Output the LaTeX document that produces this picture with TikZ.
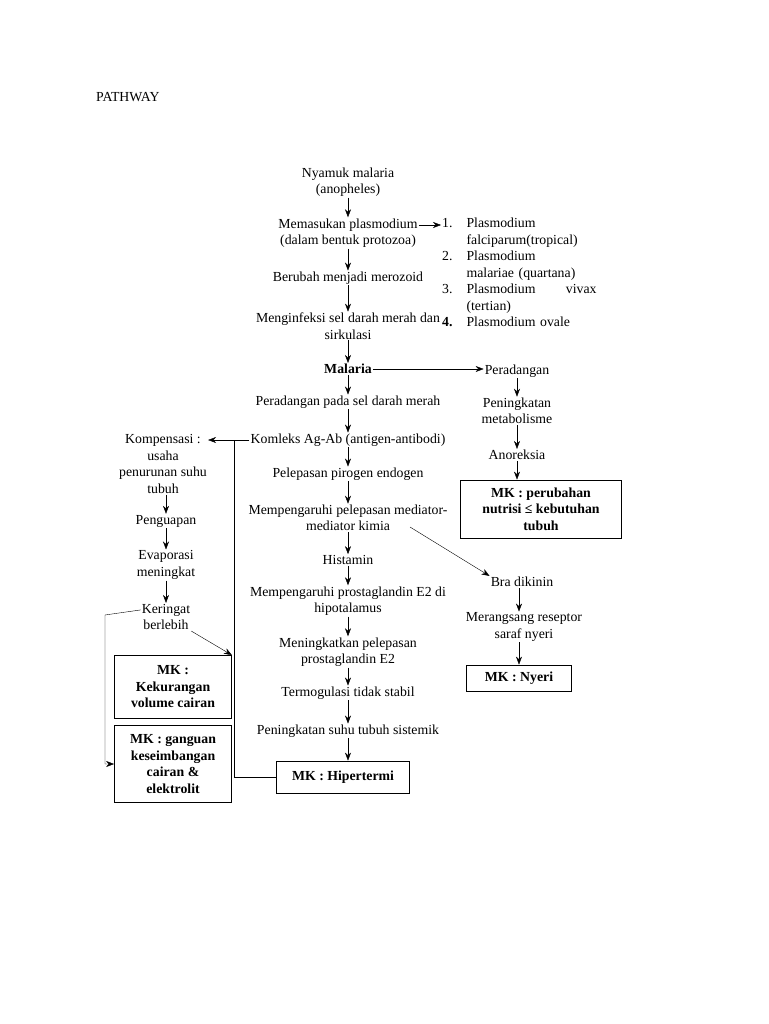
\documentclass[tikz,border=0pt]{standalone}
\usepackage{fontspec}
\setmainfont{Liberation Serif}
\usetikzlibrary{arrows.meta}
\begin{document}
\begin{tikzpicture}[x=1pt,y=-1pt,
  every node/.style={font=\fontsize{13.8}{16.5}\selectfont, align=center, inner sep=1pt},
  mk/.style={draw, thick, font=\fontsize{13.8}{16.5}\selectfont\bfseries, inner sep=3pt},
  arr/.style={-{Stealth[length=8pt,width=6pt]}}]
\useasboundingbox (0,0) rectangle (768,1024);
\node[anchor=west] (title) at (95,97) {PATHWAY};

% main column
\node (n1) at (348,182) {Nyamuk malaria\\(anopheles)};
\node (n2) at (348,233) {Memasukan plasmodium\\(dalam bentuk protozoa)};
\node (n3) at (348,278) {Berubah menjadi merozoid};
\node (n4) at (348,326) {Menginfeksi sel darah merah dan\\sirkulasi};
\node[font=\fontsize{13.8}{16.5}\selectfont\bfseries] (n5) at (348,369) {Malaria};
\node (n6) at (348,402) {Peradangan pada sel darah merah};
\node (n7) at (348,440) {Komleks Ag-Ab (antigen-antibodi)};
\node (n8) at (348,474) {Pelepasan pirogen endogen};
\node (n9) at (348,518) {Mempengaruhi pelepasan mediator-\\mediator kimia};
\node (n10) at (348,560) {Histamin};
\node (n11) at (348,601) {Mempengaruhi prostaglandin E2 di\\hipotalamus};
\node (n12) at (348,652) {Meningkatkan pelepasan\\prostaglandin E2};
\node (n13) at (348,693) {Termogulasi tidak stabil};
\node (n14) at (348,731) {Peningkatan suhu tubuh sistemik};
\node[mk, minimum width=133pt, minimum height=32pt] (n15) at (343,777) {MK : Hipertermi};

\foreach \a/\b in {n1/n2,n2/n3,n3/n4,n4/n5,n5/n6,n6/n7,n7/n8,n8/n9,n9/n10,n10/n11,n11/n12,n12/n13,n13/n14,n14/n15}
  \draw[arr] (\a.south) -- (\a.south |- \b.north);

% right column
\node[anchor=north west, text width=185pt, align=left] (list) at (441,215) {%
\begin{tabular}{@{}l@{\hspace{14pt}}p{130pt}@{}}
1. & Plasmodium\\ & falciparum(tropical)\\
2. & Plasmodium\\ & malariae (quartana)\\
3. & Plasmodium\hfill vivax\\ & (tertian)\\
\textbf{4.} & Plasmodium ovale
\end{tabular}};
\draw[arr] (n2.east |- 0,225) -- (441,225);
\node (r1) at (517,371) {Peradangan};
\node (r2) at (517,411) {Peningkatan\\metabolisme};
\node (r3) at (517,455) {Anoreksia};
\node[mk, minimum width=161pt, minimum height=58pt] (r4) at (541,509) {MK : perubahan\\nutrisi ≤ kebutuhan\\tubuh};
\node (r5) at (522,582) {Bra dikinin};
\node (r6) at (524,627) {Merangsang reseptor\\saraf nyeri};
\node[mk, minimum width=105pt, minimum height=26pt] (r7) at (519,678) {MK : Nyeri};
\draw[arr] (n5.east) -- (r1.west |- n5.east);
\foreach \a/\b in {r1/r2,r2/r3,r3/r4}
  \draw[arr] (517,0 |- \a.south) -- (517,0 |- \b.north);
\foreach \a/\b in {r5/r6,r6/r7}
  \draw[arr] (519,0 |- \a.south) -- (519,0 |- \b.north);
\draw[arr] (410,527) -- (r5.north west);

% left column
\node (l1) at (163,464) {Kompensasi :\\usaha\\penurunan suhu\\tubuh};
\node (l2) at (166,521) {Penguapan};
\node (l3) at (166,565) {Evaporasi\\meningkat};
\node (l4) at (166,617) {Keringat\\berlebih};
\node[mk, minimum width=117pt, minimum height=63pt] (l5) at (173,687) {MK :\\Kekurangan\\volume cairan};
\node[mk, minimum width=117pt, minimum height=77pt] (l6) at (173,764) {MK : ganguan\\keseimbangan\\cairan \&\\elektrolit};
\foreach \a/\b in {l1/l2,l2/l3,l3/l4}
  \draw[arr] (166,0 |- \a.south) -- (166,0 |- \b.north);
\draw[arr] (l4.south east) -- (l5.north east);
\coordinate (bend) at (234,440);
\draw[arr] (n7.west) -- (l1.north east |- n7.west);
\draw (n15.west) -| (bend);
\draw[arr] (l4.north west) ++(0,7) -- (105,615) |- (l6.west);
\end{tikzpicture}
\end{document}
